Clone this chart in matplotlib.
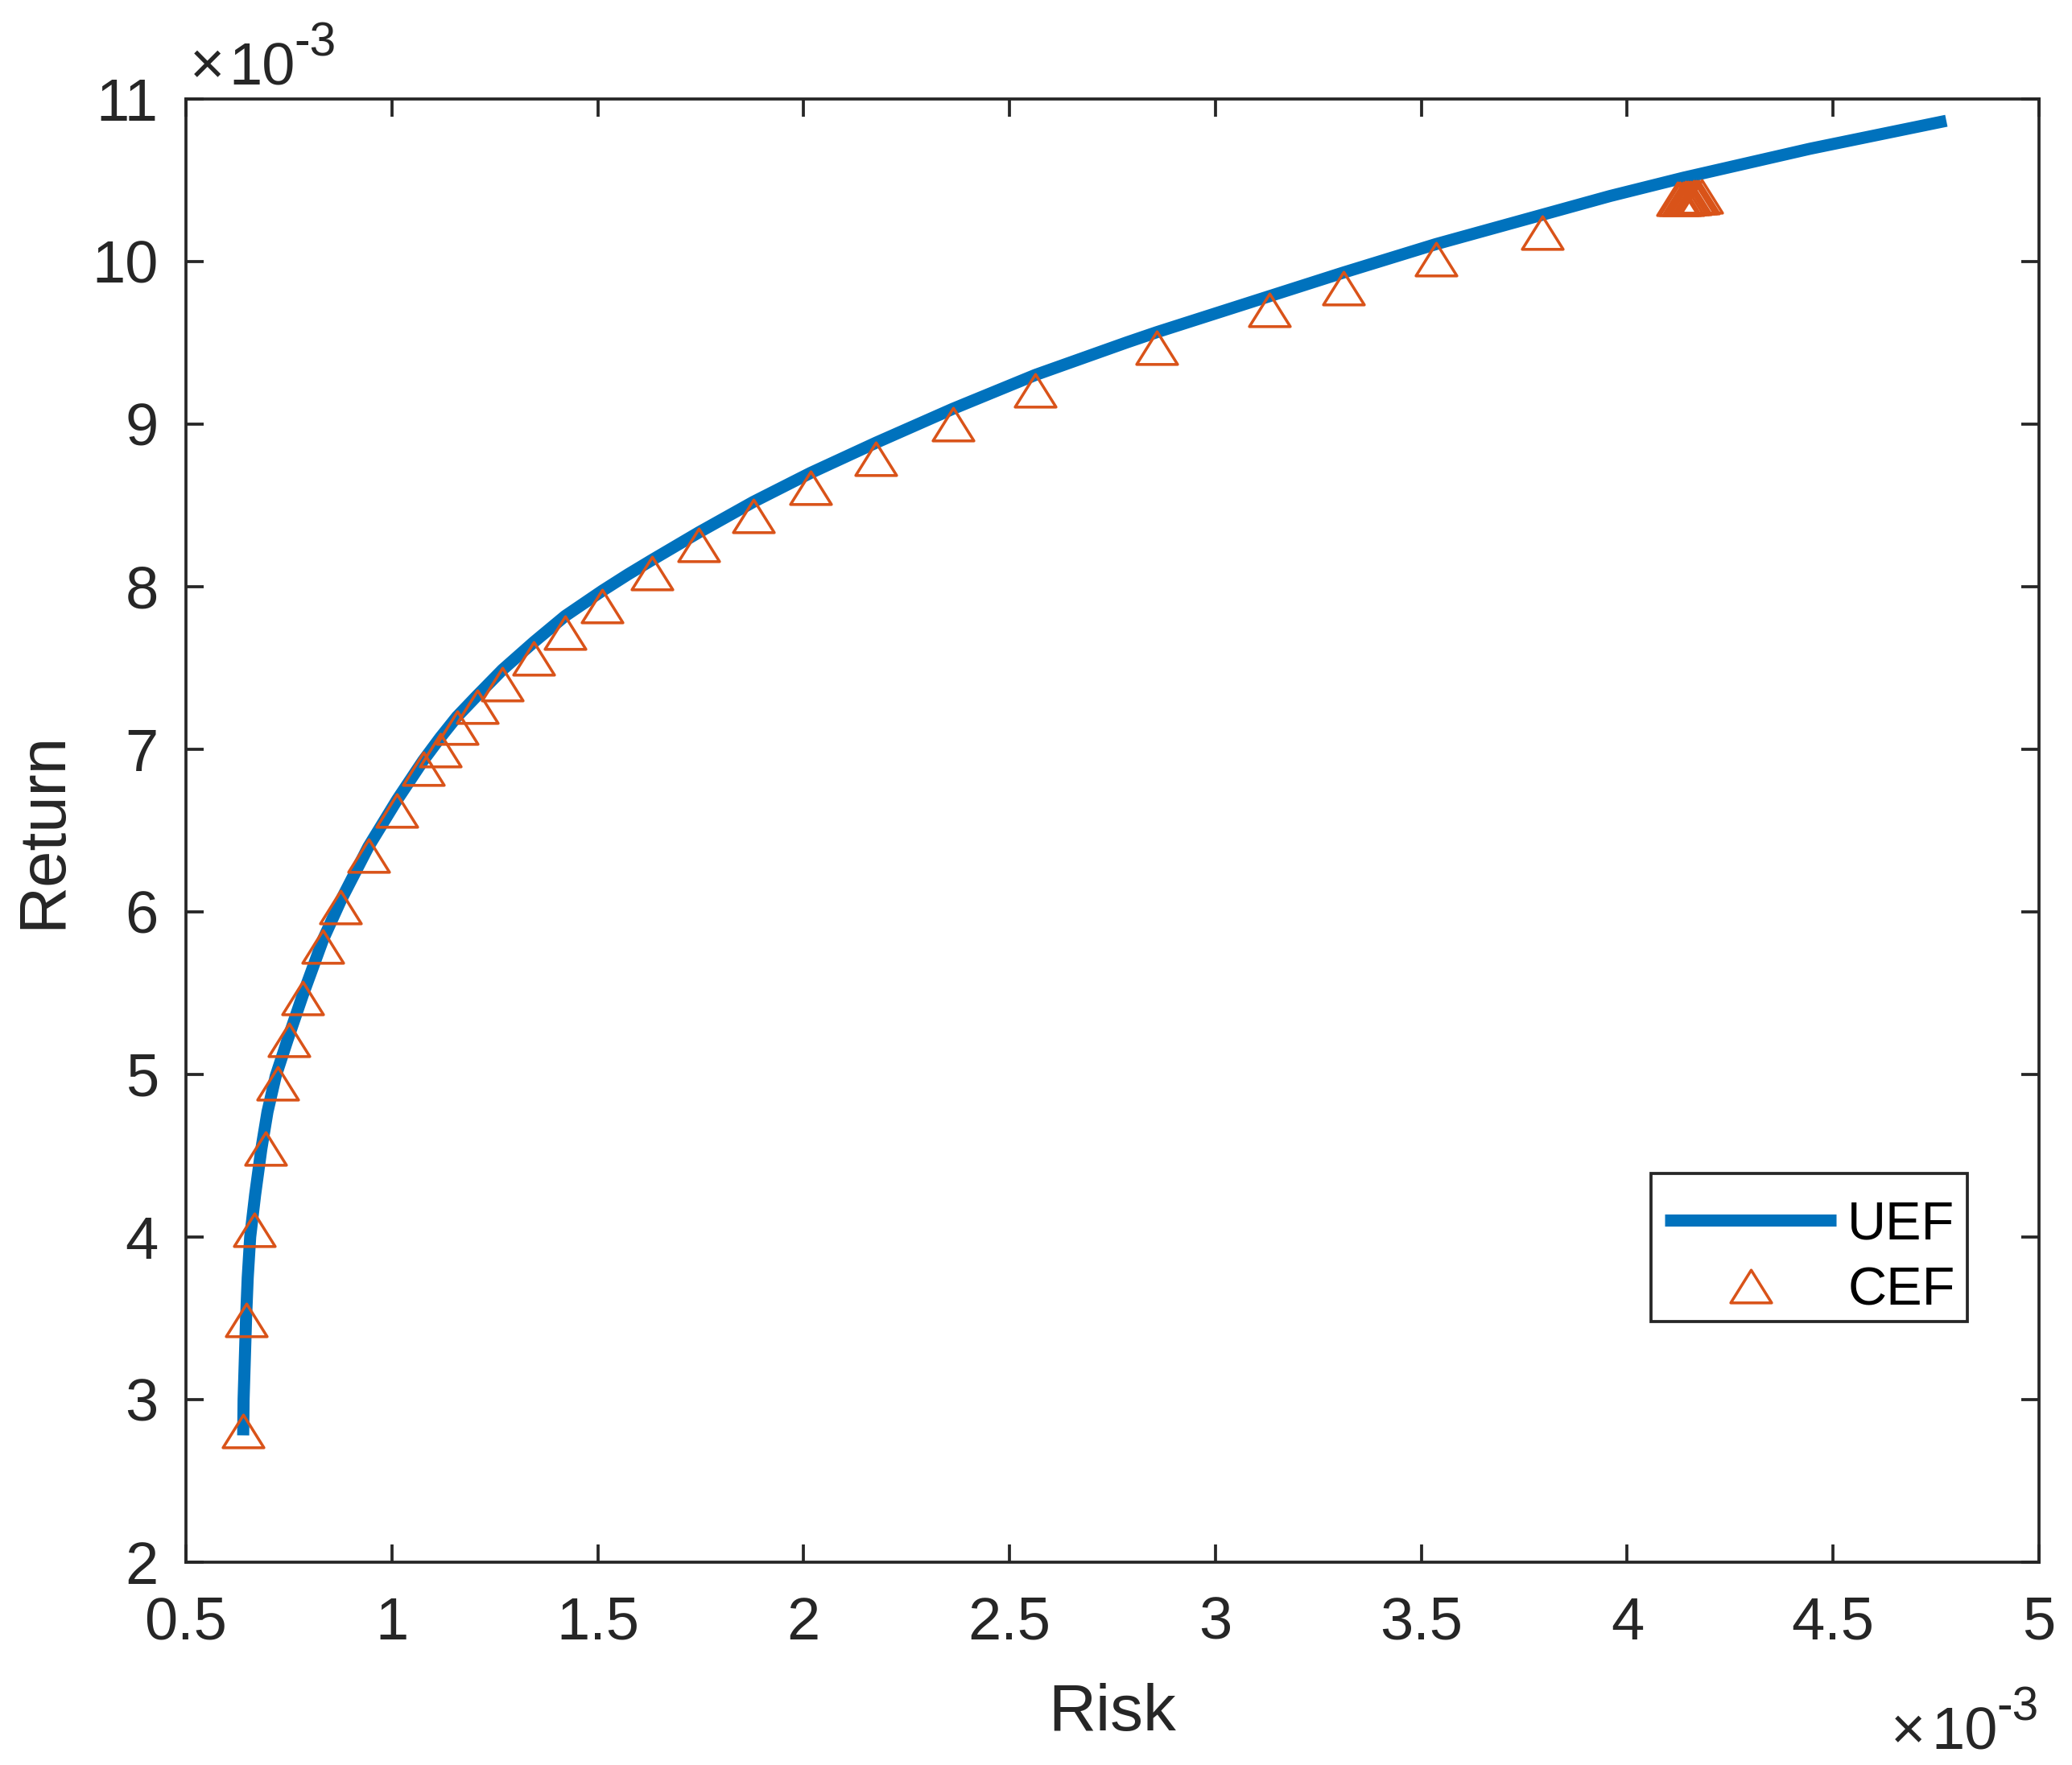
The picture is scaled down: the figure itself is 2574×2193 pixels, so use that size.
import matplotlib
matplotlib.use("Agg")
import matplotlib.pyplot as plt
from matplotlib.path import Path
from matplotlib.patches import Rectangle

plt.rcParams['font.family'] = ['Liberation Sans', 'DejaVu Sans']

# ---- data (values in units of 1e-3, as shown by the x10^-3 axis multipliers) ----
uef_risk = [0.639, 0.640, 0.646, 0.650, 0.656, 0.668, 0.683, 0.698, 0.718, 0.747,
            0.784, 0.833, 0.876, 0.943, 1.013, 1.076, 1.117, 1.158, 1.207, 1.269,
            1.345, 1.421, 1.511, 1.573, 1.632, 1.746, 1.878, 2.016, 2.175, 2.362,
            2.563, 2.785, 2.858, 3.131, 3.309, 3.535, 3.958, 4.137, 4.444, 4.775]
uef_return = [2.78, 3.00, 3.50, 3.75, 4.00, 4.26, 4.54, 4.77, 4.99, 5.215,
              5.49, 5.83, 6.07, 6.40, 6.69, 6.93, 7.07, 7.20, 7.33, 7.49,
              7.66, 7.82, 7.975, 8.075, 8.165, 8.335, 8.522, 8.699, 8.885, 9.094,
              9.303, 9.503, 9.566, 9.787, 9.931, 10.107, 10.403, 10.516, 10.694, 10.866]

cef_risk = [0.639, 0.646, 0.666, 0.694, 0.722, 0.751, 0.784, 0.833, 0.876, 0.943,
            1.013, 1.076, 1.117, 1.158, 1.207, 1.269, 1.345, 1.421, 1.511, 1.632,
            1.746, 1.878, 2.016, 2.175, 2.362, 2.563, 2.858, 3.131, 3.311, 3.535,
            3.793, 4.122, 4.128, 4.135, 4.141, 4.148, 4.154, 4.161, 4.167, 4.174, 4.180]
cef_return = [2.805, 3.49, 4.047, 4.543, 4.947, 5.214, 5.47, 5.787, 6.032, 6.349,
              6.626, 6.879, 6.996, 7.135, 7.26, 7.40, 7.56, 7.72, 7.88, 8.084,
              8.258, 8.435, 8.611, 8.788, 9.00, 9.208, 9.471, 9.702, 9.838, 10.016,
              10.176, 10.385, 10.387, 10.388, 10.390, 10.392, 10.393, 10.395, 10.397, 10.398, 10.400]

x_ticks = [0.5, 1, 1.5, 2, 2.5, 3, 3.5, 4, 4.5, 5]
x_tick_labels = ['0.5', '1', '1.5', '2', '2.5', '3', '3.5', '4', '4.5', '5']
y_ticks = [2, 3, 4, 5, 6, 7, 8, 9, 10, 11]
y_tick_labels = ['2', '3', '4', '5', '6', '7', '8', '9', '10', '11']
series_names = ['UEF', 'CEF']

# ---- figure ----
W, H = 2574, 2193
DPI = 300
fig = plt.figure(figsize=(W / DPI, H / DPI), dpi=DPI)
AX_L, AX_R, AX_T, AX_B = 231, 2533, 123, 1941
ax = fig.add_axes([AX_L / W, 1 - AX_B / H, (AX_R - AX_L) / W, (AX_B - AX_T) / H])

dark = '#262626'
blue = '#0072BD'
orange = '#D95319'

tri = Path([(-1.0, -0.8), (1.0, -0.8), (0.0, 0.8), (-1.0, -0.8)],
           [Path.MOVETO, Path.LINETO, Path.LINETO, Path.CLOSEPOLY])

ax.plot(uef_risk, uef_return, color=blue, lw=3.6, solid_capstyle='butt',
        solid_joinstyle='round', label=series_names[0], zorder=2)
ax.plot(cef_risk, cef_return, linestyle='none', marker=tri, markersize=12.2,
        markerfacecolor='none', markeredgecolor=orange, markeredgewidth=0.85,
        label=series_names[1], zorder=3)

ax.set_xlim(0.5, 5)
ax.set_ylim(2, 11)
ax.set_xticks(x_ticks)
ax.set_xticklabels(x_tick_labels)
ax.set_yticks(y_ticks)
ax.set_yticklabels(y_tick_labels)

for s in ax.spines.values():
    s.set_color(dark)
    s.set_linewidth(0.9)

ax.tick_params(axis='both', which='both', direction='in', length=5.3, width=0.9,
               color=dark, labelcolor=dark, labelsize=17.8,
               top=True, right=True)
ax.tick_params(axis='x', pad=10)
ax.tick_params(axis='y', pad=8.2)

ax.set_xlabel('Risk', fontsize=19.6, color=dark)
ax.set_ylabel('Return', fontsize=19.6, color=dark)
ax.xaxis.set_label_coords(0.5, -(2091 - AX_B) / (AX_B - AX_T))
ax.yaxis.set_label_coords(-(AX_L - 92) / (AX_R - AX_L), 0.5)

# legend: frame drawn as a rectangle, entries placed by the legend
def ax_frac(px, py):
    return (px - AX_L) / (AX_R - AX_L), 1 - (py - AX_T) / (AX_B - AX_T)

leg = ax.legend(loc='upper left', bbox_to_anchor=ax_frac(2068, 1491),
                borderaxespad=0, borderpad=0, fontsize=16, handlelength=3.2,
                handletextpad=0.21, labelspacing=0.3, frameon=False)
for t in leg.get_texts():
    t.set_color('black')
leg.set_zorder(6)
x0, y1 = ax_frac(2051, 1458)
x1, y0 = ax_frac(2444, 1642)
frame = Rectangle((x0, y0), x1 - x0, y1 - y0, transform=ax.transAxes,
                  facecolor='white', edgecolor=dark, linewidth=0.9,
                  zorder=5, clip_on=False)
ax.add_patch(frame)

# ---- x10^-3 multipliers ----
def ftext(px, py, s, size):
    fig.text(px / W, 1 - py / H, s, fontsize=size, color=dark, ha='left', va='baseline')

# y axis (top-left)
ftext(236, 104, '\u00d7', 17.8)
ftext(284, 105, '10', 17.8)
ftext(365, 70, '-3', 14.1)
# x axis (bottom-right)
ftext(2349, 2173, '\u00d7', 17.8)
ftext(2399, 2174, '10', 17.8)
ftext(2480, 2138, '-3', 14.1)

fig.savefig('out.png', dpi=DPI)
